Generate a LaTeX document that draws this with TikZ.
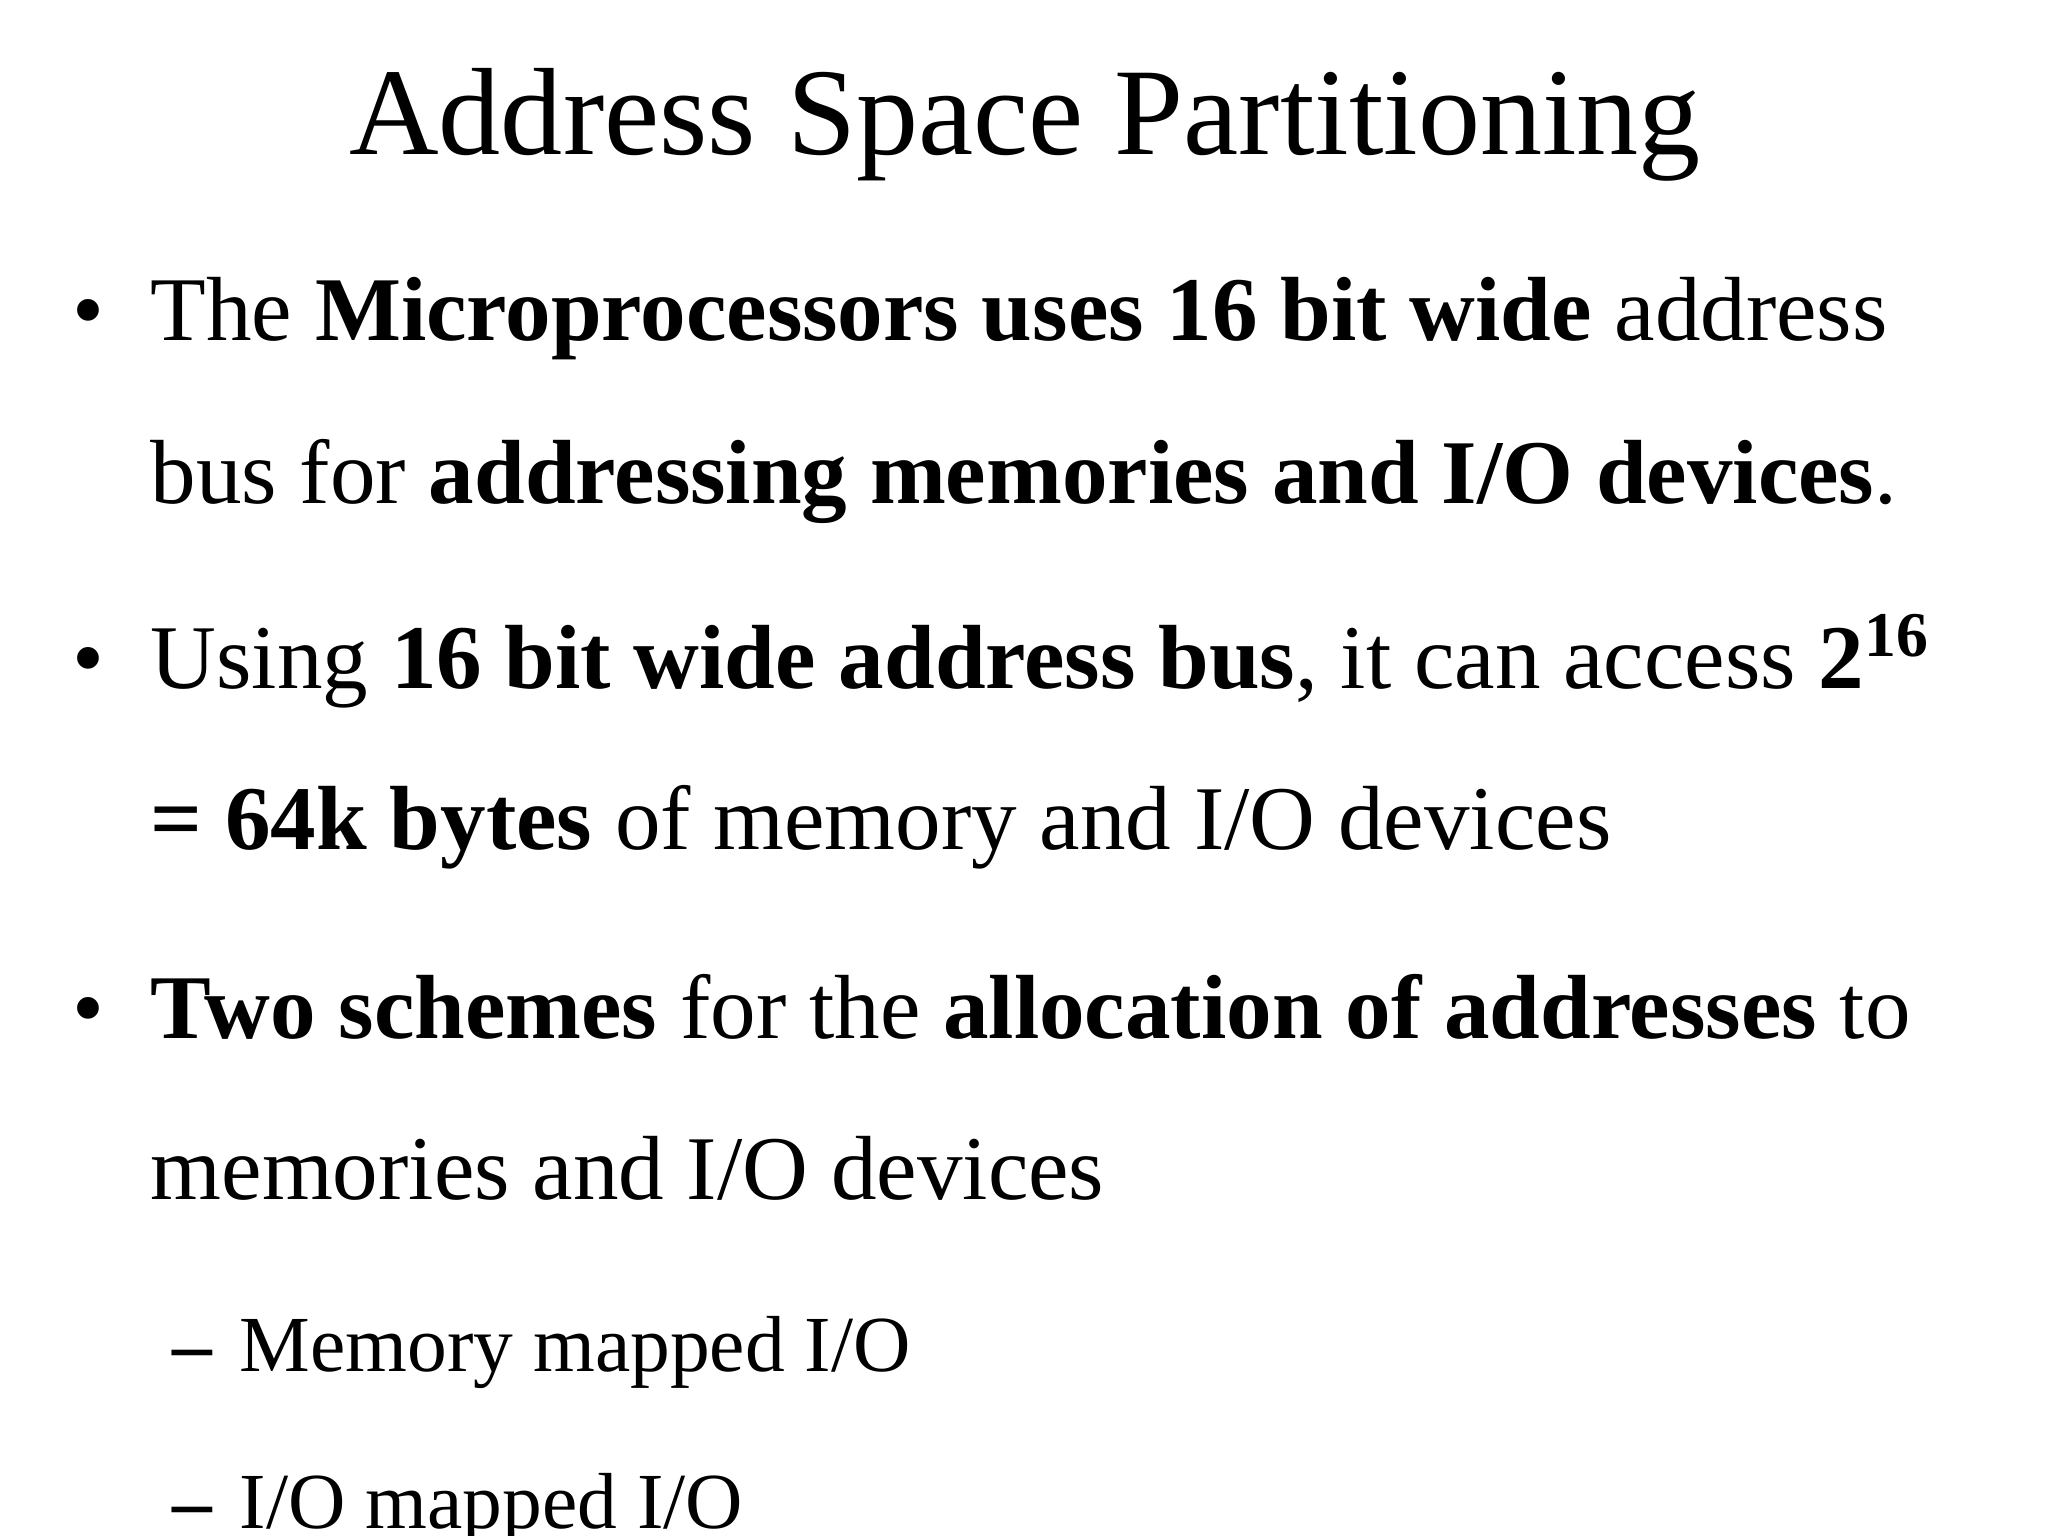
\documentclass[tikz,border=0pt]{standalone}
\usepackage{fontspec}
\setmainfont{Liberation Serif}
\begin{document}
\begin{tikzpicture}[x=0.01cm,y=-0.01cm,
  body/.style={anchor=base west,inner sep=0pt,font=\fontsize{25.9}{30}\selectfont},
  sub/.style={anchor=base west,inner sep=0pt,font=\fontsize{22.6}{27}\selectfont}]
\useasboundingbox (0,0) rectangle (2048,1536);
\node[anchor=base,inner sep=0pt,font=\fontsize{35.3}{40}\selectfont] (title) at (1025,154) {Address Space Partitioning};
\node[body] (b1) at (72,340) {\textbullet};
\node[body] (l1) at (150,340) {The \textbf{Microprocessors uses 16 bit wide} address};
\node[body] (l2) at (150,503) {bus for \textbf{addressing memories and I/O devices}.};
\node[body] (b2) at (72,688) {\textbullet};
\node[body] (l3) at (150,688) {Using \textbf{16 bit wide address bus}, it can access \textbf{2\textsuperscript{16}}};
\node[body] (l4) at (150,849) {\textbf{= 64k bytes} of memory and I/O devices};
\node[body] (b3) at (72,1038) {\textbullet};
\node[body] (l5) at (150,1038) {\textbf{Two schemes} for the \textbf{allocation of addresses} to};
\node[body] (l6) at (150,1199) {memories and I/O devices};
\node[sub] (d1) at (172,1371) {\textbf{--}};
\node[sub] (s1) at (239,1371) {Memory mapped I/O};
\node[sub] (d2) at (172,1528) {\textbf{--}};
\node[sub] (s2) at (239,1528) {I/O mapped I/O};
\end{tikzpicture}
\end{document}
